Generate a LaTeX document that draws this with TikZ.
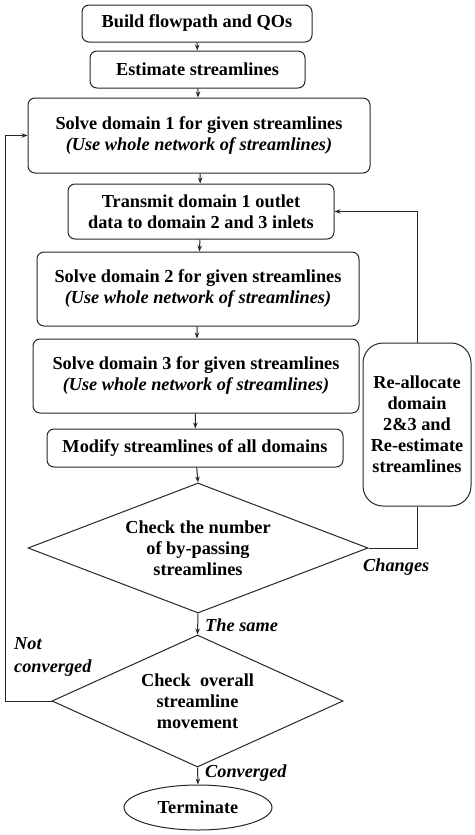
\documentclass[tikz,border=0pt]{standalone}
\usepackage{fontspec}
\setmainfont{Liberation Serif}
\usetikzlibrary{arrows.meta,shapes.geometric}
\definecolor{pLine}{gray}{0.15}
\tikzset{
    box/.style={draw=pLine, rounded corners=7pt, line width=1pt, align=center, inner sep=0pt, font=\bfseries\fontsize{18.3}{21}\selectfont},
    dia/.style={draw=pLine, diamond, line width=1pt, align=center, inner sep=0pt, font=\bfseries\fontsize{18.3}{21}\selectfont},
    lbl/.style={anchor=west, align=left, inner sep=0pt, font=\bfseries\itshape\fontsize{18.3}{23}\selectfont},
    flow/.style={-{Stealth[length=6pt,width=4.5pt]}, line width=1pt, pLine}
}

\begin{document}
\begin{tikzpicture}[x=1pt,y=-1pt]
\useasboundingbox (0,0) rectangle (474,835);
\node[box, minimum width=230pt, minimum height=37pt] (build) at (197,23.5) {Build flowpath and QOs};
\node[box, minimum width=215pt, minimum height=37pt] (est) at (197.5,69.5) {Estimate streamlines};
\node[box, minimum width=342pt, minimum height=75pt] (solve1) at (199,135.5) {Solve domain 1 for given streamlines\\\textit{(Use whole network of streamlines)}};
\node[box, minimum width=266pt, minimum height=55pt] (trans) at (201,211.5) {Transmit domain 1 outlet\\data to domain 2 and 3 inlets};
\node[box, minimum width=322pt, minimum height=74pt] (solve2) at (198,289) {Solve domain 2 for given streamlines\\\textit{(Use whole network of streamlines)}};
\node[box, minimum width=326pt, minimum height=74pt] (solve3) at (196,376) {Solve domain 3 for given streamlines\\\textit{(Use whole network of streamlines)}};
\node[box, minimum width=296pt, minimum height=38pt] (modify) at (195,448) {Modify streamlines of all domains};
\node[box, rounded corners=20pt, minimum width=108pt, minimum height=163pt] (realloc) at (417,424.5) {Re-allocate\\domain\\2\&3 and\\Re-estimate\\streamlines};
\node[dia, minimum width=340pt, minimum height=130pt, aspect=2.6] (check1) at (198,548) {Check the number\\of by-passing\\streamlines};
\node[dia, minimum width=291pt, minimum height=132pt, aspect=2.2] (check2) at (197.5,701) {Check~ overall\\streamline\\movement};
\node[box, ellipse, minimum width=148pt, minimum height=45pt] (term) at (198,807.5) {Terminate};
\coordinate (back) at (5,135.5);

\draw[flow] (build) -- (est);
\draw[flow] (est) -- (solve1);
\draw[flow] (solve1) -- (trans);
\draw[flow] (trans) -- (solve2);
\draw[flow] (solve2) -- (solve3);
\draw[flow] (solve3) -- (modify);
\draw[flow] (modify) -- (check1.north);
\draw[flow] (check1.south) -- (check2.north);
\draw[flow] (check2.south) -- (term.north);
\draw[line width=1pt,pLine] (check1.east) -| (realloc.south);
\draw[flow] (realloc.north) |- (trans.east);
\draw[flow] (check2.west) -| (back) -- (solve1.west);

\node[lbl] (same) at (205,625) {The same};
\node[lbl] (conv) at (205,773) {Converged};
\node[lbl] (changes) at (363,567) {Changes};
\node[lbl] (notconv) at (14,656.5) {Not\\converged};
\end{tikzpicture}
\end{document}
